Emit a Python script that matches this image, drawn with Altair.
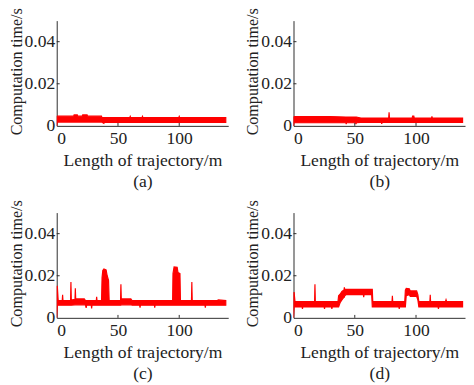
import altair as alt
import pandas as pd

# ---- data (x = length of trajectory in m, lo/hi = band of computation time in s)
a_x  = [0, 0.4, 13.8, 14.2, 16.8, 17.2, 20.8, 21.2, 24.8, 25.2, 36.5, 37.0, 38.5, 39.0, 59.6, 60.0, 60.4, 69.6, 70.0, 70.4, 99.6, 100.0, 100.4, 138]
a_lo = [0, 0.0018, 0.0018, 0.0018, 0.0018, 0.0018, 0.0018, 0.0018, 0.0018, 0.0018, 0.0018, 0.0017, 0.0012, 0.0017, 0.0017, 0.0017, 0.0017, 0.0017, 0.0017, 0.0017, 0.0017, 0.0017, 0.0017, 0.0017]
a_hi = [0.0045, 0.0046, 0.0046, 0.0052, 0.0052, 0.0046, 0.0046, 0.0052, 0.0052, 0.0046, 0.0046, 0.0039, 0.0039, 0.0039, 0.0039, 0.0045, 0.0039, 0.0039, 0.0045, 0.0039, 0.0039, 0.0045, 0.0039, 0.0039]

b_x  = [0, 0.4, 30, 42.7, 43, 43.3, 50.7, 51, 51.3, 55, 71.7, 72, 72.3, 77.7, 78, 78.3, 96.8, 97.2, 98.2, 98.6, 112.7, 113, 113.3, 138]
b_lo = [0, 0.0015, 0.0015, 0.0015, 0.0008, 0.0015, 0.0015, 0.0008, 0.0015, 0.0017, 0.0017, 0.0009, 0.0017, 0.0017, 0.0017, 0.0017, 0.0017, 0.0017, 0.0017, 0.0017, 0.0017, 0.0017, 0.0017, 0.0017]
b_hi = [0.0042, 0.0044, 0.0044, 0.0042, 0.0042, 0.0042, 0.0042, 0.0042, 0.0042, 0.0037, 0.0037, 0.0037, 0.0037, 0.0037, 0.0064, 0.0037, 0.0037, 0.0046, 0.0046, 0.0037, 0.0037, 0.0045, 0.0037, 0.0037]

c_x  = [0, 0.5, 1.2, 4.5, 4.8, 5.1, 11.3, 11.6, 11.9, 14.9, 15.2, 15.5, 22.5, 23.5, 24.0, 24.5, 28.2, 28.5, 28.8, 32.3, 32.6, 32.9,
        36.6, 37.0, 37.6, 38.5, 40.3, 41.2, 42.3, 42.8, 52.1, 52.4, 52.7, 60.5, 61.5, 67.7, 68.0, 68.3, 79.7, 80.0, 80.3,
        94.6, 94.9, 95.8, 98.3, 99.0, 100.6, 101.0, 110.0, 110.3, 110.6, 121, 121.3, 121.6, 131, 132, 138]
c_lo = [0, 0.006, 0.006, 0.006, 0.006, 0.006, 0.006, 0.006, 0.006, 0.0062, 0.0062, 0.0062, 0.0062, 0.006, 0.0047, 0.006, 0.006, 0.0045, 0.006, 0.006, 0.006, 0.006,
        0.006, 0.006, 0.006, 0.006, 0.006, 0.006, 0.006, 0.006, 0.006, 0.006, 0.0062, 0.0062, 0.006, 0.006, 0.0048, 0.006, 0.006, 0.0048, 0.006,
        0.006, 0.006, 0.006, 0.006, 0.006, 0.006, 0.006, 0.006, 0.006, 0.006, 0.006, 0.0048, 0.006, 0.006, 0.006, 0.006]
c_hi = [0.015, 0.015, 0.0082, 0.0082, 0.011, 0.0082, 0.0082, 0.017, 0.0085, 0.0088, 0.014, 0.009, 0.009, 0.0082, 0.0082, 0.0082, 0.0082, 0.0082, 0.0082, 0.0082, 0.010, 0.0082,
        0.0082, 0.019, 0.0225, 0.0232, 0.0228, 0.020, 0.0178, 0.0082, 0.0082, 0.016, 0.009, 0.009, 0.0082, 0.0082, 0.0082, 0.0082, 0.0082, 0.0082, 0.0082,
        0.0082, 0.021, 0.0242, 0.024, 0.0215, 0.021, 0.0082, 0.0082, 0.017, 0.0082, 0.0082, 0.0082, 0.0082, 0.0082, 0.0085, 0.0082]

d_x  = [0, 0.5, 1.2, 7.0, 7.3, 7.6, 17.2, 17.5, 17.8, 25.0, 25.3, 25.6, 31.0, 31.3, 31.6, 36.3, 36.8, 38.0, 39.5, 41.2, 41.5, 41.8, 42.8,
        57.0, 57.3, 57.6, 63.8, 64.3, 64.7, 80.4, 80.7, 81.0, 86.0, 86.3, 86.6, 90.8, 91.3, 92.0, 94.5, 95.3, 100.5, 101.5, 102.3,
        111.3, 111.6, 111.9, 118.0, 118.3, 118.6, 124.0, 124.5, 125.0, 138]
d_lo = [0, 0.0052, 0.0052, 0.0052, 0.0043, 0.0052, 0.0052, 0.0052, 0.0052, 0.0052, 0.0043, 0.0052, 0.0052, 0.0043, 0.0052, 0.0052, 0.0052, 0.0072, 0.0085, 0.0098, 0.0098, 0.0105, 0.011,
        0.011, 0.0098, 0.011, 0.011, 0.0052, 0.0052, 0.0052, 0.0052, 0.0052, 0.0052, 0.0043, 0.0052, 0.0052, 0.0052, 0.0105, 0.011, 0.0102, 0.0102, 0.0085, 0.0052,
        0.0052, 0.0052, 0.0052, 0.0052, 0.0043, 0.0052, 0.0052, 0.0052, 0.0052, 0.0052]
d_hi = [0.012, 0.012, 0.0077, 0.0077, 0.0077, 0.0077, 0.0077, 0.016, 0.0077, 0.0077, 0.0077, 0.0077, 0.0077, 0.0077, 0.0077, 0.0077, 0.0105, 0.0112, 0.0125, 0.0132, 0.0145, 0.0135, 0.0135,
        0.0135, 0.0135, 0.0135, 0.0135, 0.0135, 0.0077, 0.0077, 0.0105, 0.0077, 0.0077, 0.0077, 0.0077, 0.0077, 0.0132, 0.014, 0.0138, 0.0128, 0.0128, 0.011, 0.0077,
        0.0077, 0.011, 0.0077, 0.0077, 0.0077, 0.0077, 0.0077, 0.0086, 0.0077, 0.0077]

panel_labels = ["(a)", "(b)", "(c)", "(d)"]
x_ticks = [0, 50, 100]
y_ticks = [0, 0.02, 0.04]
x_title = "Length of trajectory/m"
y_title = "Computation time/s"

W, H = 176, 108
FONT = "Liberation Serif"
RED = "#ff0000"
AX = "#2a2a2a"


def panel(xs, lo, hi, label):
    df = pd.DataFrame({"x": xs, "lo": lo, "hi": hi})
    xsc = alt.Scale(domain=[0, 140], nice=False)
    ysc = alt.Scale(domain=[0, 0.05], nice=False)
    band = alt.Chart(df).mark_area(color=RED, stroke=RED, strokeWidth=1.2, clip=True).encode(
        x=alt.X("x:Q", scale=xsc,
                axis=alt.Axis(values=x_ticks, title=[x_title, label], labelPadding=4,
                              titlePadding=5, titleLineHeight=21, domain=True,
                              domainColor=AX, domainWidth=1)),
        y=alt.Y("lo:Q", scale=ysc,
                axis=alt.Axis(values=y_ticks, title=y_title, titleY=52, titleFontSize=16.5,
                              domain=True, domainColor=AX, domainWidth=1,
                              labelExpr="datum.value == 0 ? '0' : format(datum.value, '.2f')",
                              labelPadding=2, titlePadding=0)),
        y2="hi:Q",
    )
    xt = alt.Chart(pd.DataFrame({"t": x_ticks[1:]})).mark_rule(color=AX, strokeWidth=1).encode(
        x=alt.X("t:Q", scale=xsc), y=alt.value(H), y2=alt.value(H - 3))
    yt = alt.Chart(pd.DataFrame({"t": y_ticks[1:]})).mark_rule(color=AX, strokeWidth=1).encode(
        y=alt.Y("t:Q", scale=ysc), x=alt.value(0), x2=alt.value(3))
    return alt.layer(band, xt, yt).properties(width=W, height=H)


charts = [panel(a_x, a_lo, a_hi, panel_labels[0]),
          panel(b_x, b_lo, b_hi, panel_labels[1]),
          panel(c_x, c_lo, c_hi, panel_labels[2]),
          panel(d_x, d_lo, d_hi, panel_labels[3])]

chart = alt.concat(*charts, columns=2, spacing={"row": 89, "column": 67}, bounds="flush").properties(
    padding={"left": 0, "top": -6, "right": 1, "bottom": 0}
).configure_view(stroke=None).configure_axis(
    labelFont=FONT, titleFont=FONT, labelFontSize=18, titleFontSize=18,
    titleFontWeight="normal", labelColor="#222", titleColor="#222",
    ticks=False, grid=False
)

chart.save("out.html", embed_options={"renderer": "svg", "actions": False})
